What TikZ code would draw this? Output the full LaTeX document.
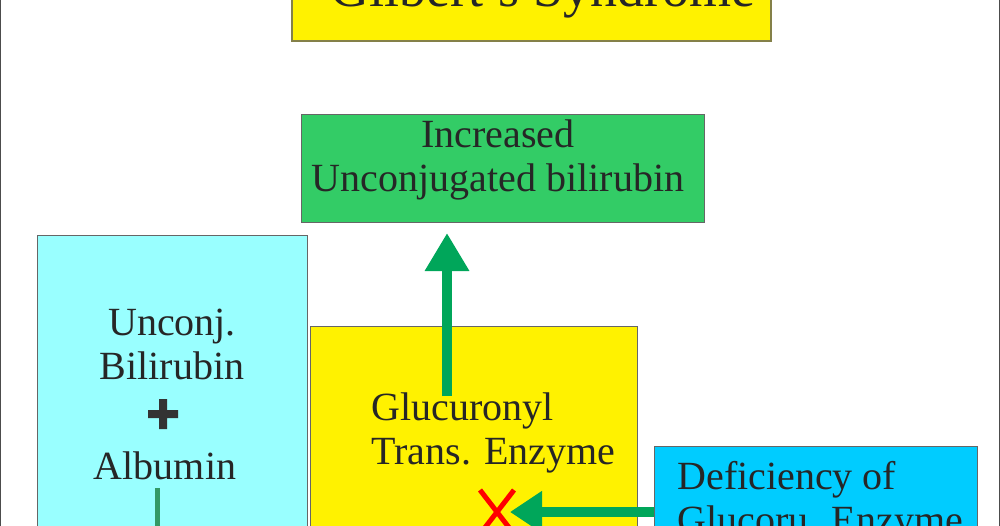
\documentclass[tikz,border=0pt]{standalone}
\usepackage{fontspec}
\setmainfont{Liberation Serif}
\usetikzlibrary{arrows.meta}
\begin{document}
\begin{tikzpicture}[x=0.5pt,y=-0.5pt,
  box/.style={draw=black!60,line width=0.6pt},
  lbl/.style={font=\fontsize{20}{22}\selectfont,text=black!85,inner sep=0pt}]
\useasboundingbox (0,0) rectangle (1000,525);
\clip (0,0) rectangle (1000,525);
\draw[black!70,line width=1pt] (0,-10) rectangle (1000,600);
% title
\fill[yellow,draw=black!55!yellow,line width=0.8pt] (292,-60) rectangle (771,41);
\node[lbl,font=\fontsize{27}{30}\selectfont] (title) at (543,-6) {Gilbert's Syndrome};
% green box
\node[box,fill={rgb,255:red,51;green,204;blue,102},minimum width=201.5pt,minimum height=54pt,anchor=north west,inner sep=0pt] (inc) at (301,114) {};
\node[lbl,align=center] (inct) at (498,160) {Increased\\Unconjugated bilirubin};
% cyan box
\node[box,fill={rgb,255:red,153;green,255;blue,255},minimum width=135pt,minimum height=160pt,anchor=north west,inner sep=0pt] (cy) at (37,235) {};
\node[lbl,align=center] (cyt1) at (172,344) {Unconj.\\ Bilirubin};
\coordinate (plus) at (163,414);
\fill[black!80] ([shift={(-4,-15)}]plus) rectangle ([shift={(4,15)}]plus)
                ([shift={(-15,-4)}]plus) rectangle ([shift={(15,4)}]plus);
\node[lbl] (alb) at (165,466) {Albumin};
\coordinate (l1) at (157,488);
\coordinate (l2) at (157,560);
\draw[draw={rgb,255:red,51;green,153;blue,102},line width=2.5pt] (l1) -- (l2);
% yellow box
\node[box,fill={rgb,255:red,255;green,242;blue,0},minimum width=163.5pt,minimum height=120pt,anchor=north west,inner sep=0pt] (ye) at (310,326) {};
\node[lbl,align=left,anchor=west] (gt) at (371,433) {Glucuronyl\\Trans. Enzyme};
\coordinate (a1) at (447,396);
\coordinate (a2) at (447,233);
\draw[draw={rgb,255:red,0;green,166;blue,90},line width=5pt,-{Triangle[width=21pt,length=19pt]}] (a1) -- (a2);
% blue box
\node[box,fill={rgb,255:red,0;green,204;blue,255},minimum width=161.5pt,minimum height=80pt,anchor=north west,inner sep=0pt] (bl) at (654,446) {};
\node[lbl,align=left,anchor=north west] (def) at (677,461) {Deficiency of\\Glucoru. Enzyme};
% X and arrow
\coordinate (xc) at (497,512);
\draw[red,line width=2.5pt] (480,490) -- (514,534) (514,490) -- (480,534);
\draw[draw={rgb,255:red,0;green,166;blue,90},line width=5pt,-{Triangle[width=20pt,length=16pt]}] (bl.west |- xc) -- (510,512);
\end{tikzpicture}
\end{document}
